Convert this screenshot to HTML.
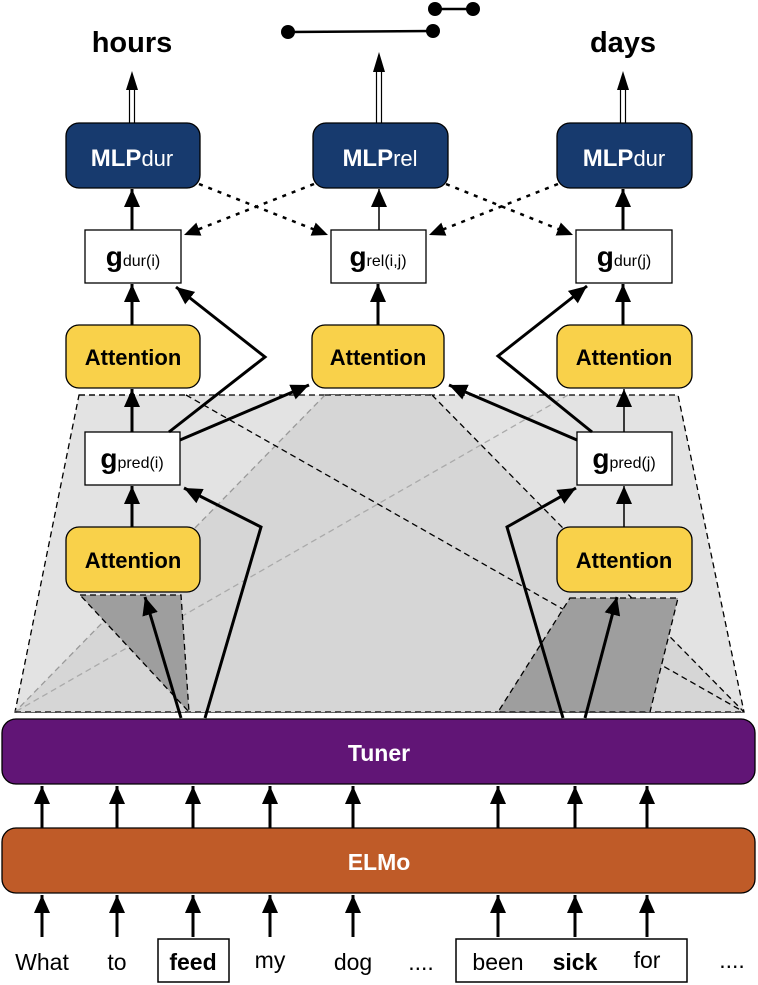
<!DOCTYPE html>
<html><head><meta charset="utf-8"><style>
html,body{margin:0;padding:0;background:#fff}
svg{display:block}
text{font-family:"Liberation Sans",sans-serif}
</style></head><body>
<svg width="758" height="985" viewBox="0 0 758 985" xmlns="http://www.w3.org/2000/svg">
<defs>
<marker id="ah" markerUnits="userSpaceOnUse" markerWidth="20" markerHeight="16" refX="18" refY="8" orient="auto"><path d="M0,0 L18,8 L0,16 Z" fill="#000"/></marker>
<marker id="ahs" markerUnits="userSpaceOnUse" markerWidth="18" markerHeight="14" refX="16" refY="7" orient="auto"><path d="M0,0 L16,7 L0,14 Z" fill="#000"/></marker>
</defs>

<polygon points="79,395 678,395 744,712 15,712" fill="#e3e3e3" stroke="#000" stroke-width="1.3" stroke-dasharray="6,4"/>
<polygon points="325,395 432,395 744,712 15,712" fill="#d6d6d6"/>
<line x1="325" y1="395" x2="15" y2="712" stroke="#999" stroke-width="1.3" stroke-dasharray="6,4"/>
<line x1="432" y1="395" x2="744" y2="712" stroke="#000" stroke-width="1.3" stroke-dasharray="6,4"/>
<line x1="186" y1="395" x2="744" y2="712" stroke="#000" stroke-width="1.3" stroke-dasharray="6,4"/>
<line x1="568" y1="395" x2="15" y2="712" stroke="#aaa" stroke-width="1.3" stroke-dasharray="6,4"/>
<line x1="79" y1="395" x2="186" y2="395" stroke="#000" stroke-width="1.3" stroke-dasharray="6,4"/>
<line x1="325" y1="395" x2="432" y2="395" stroke="#000" stroke-width="1.3" stroke-dasharray="6,4"/>
<line x1="15" y1="712" x2="744" y2="712" stroke="#000" stroke-width="1.3" stroke-dasharray="6,4"/>
<polygon points="80,595 181,595 189,712" fill="#9e9e9e" stroke="#000" stroke-width="1.3" stroke-dasharray="6,4"/>
<polygon points="570,598 678,598 650,712 498,712" fill="#9e9e9e" stroke="#000" stroke-width="1.3" stroke-dasharray="6,4"/>

<line x1="288" y1="32" x2="433" y2="31" stroke="#000" stroke-width="2.5"/>
<circle cx="288" cy="32" r="7"/><circle cx="433" cy="31" r="7"/>
<line x1="435" y1="9" x2="473" y2="9" stroke="#000" stroke-width="2.5"/>
<circle cx="435" cy="9" r="7"/><circle cx="473" cy="9" r="7"/>

<text x="132" y="52" font-size="29" font-weight="bold" text-anchor="middle">hours</text>
<text x="623" y="52" font-size="29" font-weight="bold" text-anchor="middle">days</text>

<g stroke="#000" stroke-width="1.2" fill="#fff">
<rect x="129.5" y="88" width="5" height="36"/>
<rect x="376.5" y="70" width="5" height="54"/>
<rect x="620.5" y="88" width="5" height="36"/>
</g>
<path d="M132,71 L126,90 L138,90 Z"/>
<path d="M379,52 L373,72 L385,72 Z"/>
<path d="M623,71 L617,90 L629,90 Z"/>

<g fill="#173a6e" stroke="#000" stroke-width="1.3">
<rect x="66" y="123" width="134" height="65" rx="13"/>
<rect x="313" y="123" width="135" height="65" rx="13"/>
<rect x="557" y="123" width="135" height="65" rx="13"/>
</g>
<g fill="#fff" text-anchor="middle" font-size="24">
<text x="132" y="166"><tspan font-weight="bold">MLP</tspan><tspan font-size="22">dur</tspan></text>
<text x="380" y="166"><tspan font-weight="bold">MLP</tspan><tspan font-size="22">rel</tspan></text>
<text x="624" y="166"><tspan font-weight="bold">MLP</tspan><tspan font-size="22">dur</tspan></text>
</g>

<g stroke="#000" stroke-width="2.5" stroke-dasharray="4,6" fill="none">
<line x1="199" y1="184" x2="328" y2="235" marker-end="url(#ahs)"/>
<line x1="314" y1="184" x2="184" y2="235" marker-end="url(#ahs)"/>
<line x1="446" y1="184" x2="573" y2="235" marker-end="url(#ahs)"/>
<line x1="558" y1="184" x2="429" y2="235" marker-end="url(#ahs)"/>
</g>

<g fill="#fff" stroke="#000" stroke-width="1.3">
<rect x="85" y="230" width="96" height="53"/>
<rect x="331" y="230" width="95" height="53"/>
<rect x="576" y="230" width="96" height="53"/>
<rect x="85" y="432" width="95" height="53"/>
<rect x="577" y="432" width="95" height="53"/>
</g>
<g text-anchor="middle" font-size="16">
<text x="133" y="266"><tspan font-size="28" font-weight="bold">g</tspan>dur(i)</text>
<text x="378" y="266"><tspan font-size="28" font-weight="bold">g</tspan>rel(i,j)</text>
<text x="624" y="266"><tspan font-size="28" font-weight="bold">g</tspan>dur(j)</text>
<text x="132" y="468"><tspan font-size="28" font-weight="bold">g</tspan>pred(i)</text>
<text x="624" y="468"><tspan font-size="28" font-weight="bold">g</tspan>pred(j)</text>
</g>

<g fill="#f9d14a" stroke="#000" stroke-width="1.3">
<rect x="66" y="325" width="134" height="63" rx="13"/>
<rect x="312" y="325" width="132" height="63" rx="13"/>
<rect x="557" y="325" width="135" height="63" rx="13"/>
<rect x="66" y="527" width="134" height="65" rx="13"/>
<rect x="557" y="527" width="135" height="65" rx="13"/>
</g>
<g text-anchor="middle" font-size="22" font-weight="bold">
<text x="133" y="365">Attention</text>
<text x="378" y="365">Attention</text>
<text x="624" y="365">Attention</text>
<text x="133" y="568">Attention</text>
<text x="624" y="568">Attention</text>
</g>

<g stroke="#000" stroke-width="3" fill="none">
<line x1="132" y1="230" x2="132" y2="189" marker-end="url(#ah)"/>
<line x1="623" y1="230" x2="623" y2="189" marker-end="url(#ah)"/>
<line x1="379" y1="230" x2="379" y2="189" stroke-width="1.5" marker-end="url(#ah)"/>
<line x1="132" y1="325" x2="132" y2="284" marker-end="url(#ah)"/>
<line x1="378" y1="325" x2="378" y2="284" marker-end="url(#ah)"/>
<line x1="623" y1="325" x2="623" y2="284" marker-end="url(#ah)"/>
<line x1="132" y1="432" x2="132" y2="389" marker-end="url(#ah)"/>
<line x1="624" y1="432" x2="624" y2="389" stroke-width="1.5" marker-end="url(#ah)"/>
<line x1="132" y1="527" x2="132" y2="486" marker-end="url(#ah)"/>
<line x1="624" y1="527" x2="624" y2="486" stroke-width="1.5" marker-end="url(#ah)"/>
<polyline points="169,432 265,357 176,287" marker-end="url(#ah)"/>
<line x1="180" y1="440" x2="309" y2="385" marker-end="url(#ah)"/>
<line x1="577" y1="440" x2="449" y2="385" marker-end="url(#ah)"/>
<polyline points="592,432 498,356 587,286" marker-end="url(#ah)"/>
<line x1="181" y1="718" x2="145" y2="597" marker-end="url(#ah)"/>
<polyline points="205,718 261,527 184,488" marker-end="url(#ah)"/>
<polyline points="563,718 507,527 576,488" marker-end="url(#ah)"/>
<line x1="585" y1="718" x2="617" y2="597" marker-end="url(#ah)"/>
</g>

<rect x="2" y="719" width="753" height="65" rx="14" fill="#611576" stroke="#000" stroke-width="1.3"/>
<text x="379" y="761" fill="#fff" font-size="23" font-weight="bold" text-anchor="middle">Tuner</text>
<rect x="2" y="828" width="753" height="65" rx="14" fill="#bf5b28" stroke="#000" stroke-width="1.3"/>
<text x="379" y="870" fill="#fff" font-size="23" font-weight="bold" text-anchor="middle">ELMo</text>

<g stroke="#000" stroke-width="3" fill="none">
<line x1="42" y1="828" x2="42" y2="786" marker-end="url(#ah)"/>
<line x1="117" y1="828" x2="117" y2="786" marker-end="url(#ah)"/>
<line x1="193" y1="828" x2="193" y2="786" marker-end="url(#ah)"/>
<line x1="270" y1="828" x2="270" y2="786" marker-end="url(#ah)"/>
<line x1="353" y1="828" x2="353" y2="786" marker-end="url(#ah)"/>
<line x1="498" y1="828" x2="498" y2="786" marker-end="url(#ah)"/>
<line x1="575" y1="828" x2="575" y2="786" marker-end="url(#ah)"/>
<line x1="647" y1="828" x2="647" y2="786" marker-end="url(#ah)"/>
<line x1="42" y1="937" x2="42" y2="895" marker-end="url(#ah)"/>
<line x1="117" y1="937" x2="117" y2="895" marker-end="url(#ah)"/>
<line x1="193" y1="937" x2="193" y2="895" marker-end="url(#ah)"/>
<line x1="270" y1="937" x2="270" y2="895" marker-end="url(#ah)"/>
<line x1="353" y1="937" x2="353" y2="895" marker-end="url(#ah)"/>
<line x1="498" y1="937" x2="498" y2="895" marker-end="url(#ah)"/>
<line x1="575" y1="937" x2="575" y2="895" marker-end="url(#ah)"/>
<line x1="647" y1="937" x2="647" y2="895" marker-end="url(#ah)"/>
</g>

<rect x="158" y="939" width="71" height="43" fill="none" stroke="#000" stroke-width="1.5"/>
<rect x="456" y="939" width="231" height="43" fill="none" stroke="#000" stroke-width="1.5"/>
<g font-size="23" text-anchor="middle">
<text x="42" y="970">What</text>
<text x="117" y="970">to</text>
<text x="193" y="970" font-weight="bold">feed</text>
<text x="270" y="968">my</text>
<text x="353" y="970">dog</text>
<text x="421" y="970">....</text>
<text x="498" y="970">been</text>
<text x="575" y="970" font-weight="bold">sick</text>
<text x="647" y="968">for</text>
<text x="732" y="968">....</text>
</g>
</svg>
</body></html>
